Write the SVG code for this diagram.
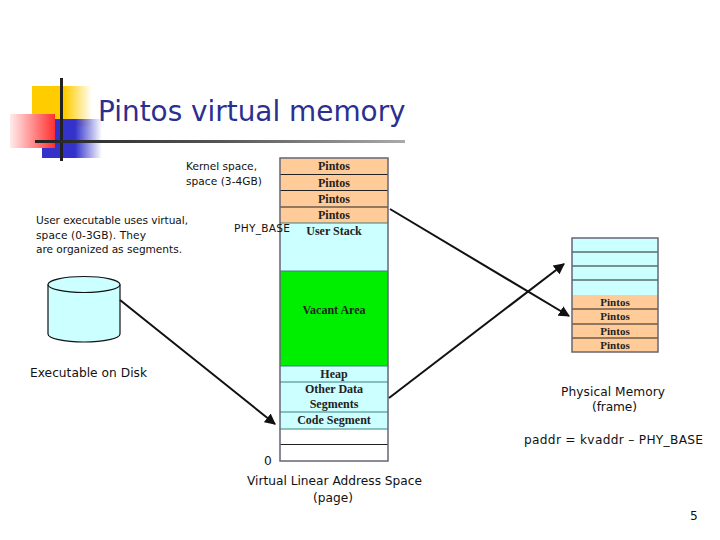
<svg xmlns="http://www.w3.org/2000/svg" width="720" height="540" viewBox="0 0 720 540">
<style>
.l{font-family:"DejaVu Sans",sans-serif;font-size:12.2px;fill:#111}
.s{font-family:"DejaVu Sans",sans-serif;font-size:10.6px;fill:#111}
.t{font-family:"Liberation Serif",serif;font-weight:bold;font-size:12px;text-anchor:middle;fill:#222}
.b{fill:#ccffff}.o{fill:#ffcc99}
.r{stroke:#222;stroke-width:1}
.f{fill:none;stroke:#667;stroke-width:1.5}
.a{stroke:#111;stroke-width:2;fill:none;marker-end:url(#h)}
</style>
<defs>
<marker id="h" viewBox="0 0 10 10" refX="9" refY="5" markerWidth="5.5" markerHeight="5.5" orient="auto"><path d="M0 0L10 5L0 10Z" fill="#111"/></marker>
<linearGradient id="y"><stop offset="0.55" stop-color="#ffcc00"/><stop offset="1" stop-color="#ffcc00" stop-opacity="0"/></linearGradient>
<linearGradient id="u"><stop offset="0.55" stop-color="#3333cc"/><stop offset="1" stop-color="#3333cc" stop-opacity="0"/></linearGradient>
<linearGradient id="e"><stop offset="0" stop-color="#ffecec"/><stop offset="1" stop-color="#ff3030"/></linearGradient>
<linearGradient id="n"><stop offset="0" stop-color="#222"/><stop offset="0.5" stop-color="#555"/><stop offset="1" stop-color="#aaa"/></linearGradient>
</defs>
<g id="logo">
<rect x="32" y="86" width="60" height="40" fill="url(#y)"/>
<rect x="42" y="119" width="60" height="39" fill="url(#u)"/>
<rect x="10" y="114" width="45" height="34" fill="url(#e)"/>
<rect x="60" y="78" width="3" height="83" fill="#222"/>
<rect x="35" y="140" width="370" height="3" fill="url(#n)"/>
</g>
<text id="title" x="98" y="121" style="font-family:'DejaVu Sans',sans-serif;font-size:27.9px;fill:#2b2f8f">Pintos virtual memory</text>
<g id="virtual-memory">
<rect class="o" x="280" y="158" width="108" height="65"/>
<rect class="b" x="280" y="223" width="108" height="48"/>
<rect x="280" y="271" width="108" height="95" fill="#00ee00"/>
<rect class="b" x="280" y="366" width="108" height="63"/>
<rect x="280" y="429" width="108" height="32" fill="#fff"/>
<path class="r" d="M280 174.500H388M280 190.500H388M280 207H388M280 444.500H388"/>
<path d="M280 223H388M280 271H388M280 366H388M280 382H388M280 412H388M280 429H388" stroke="#3f7f7f" stroke-width="1"/>
<rect class="f" x="280" y="158" width="108" height="303"/>
<text class="t" x="334" y="170">Pintos</text>
<text class="t" x="334" y="187">Pintos</text>
<text class="t" x="334" y="203">Pintos</text>
<text class="t" x="334" y="219">Pintos</text>
<text class="t" x="334" y="235">User Stack</text>
<text class="t" x="334" y="314">Vacant Area</text>
<text class="t" x="334" y="378">Heap</text>
<text class="t" x="334" y="393">Other Data</text>
<text class="t" x="334" y="408">Segments</text>
<text class="t" x="334" y="424">Code Segment</text>
</g>
<g id="physical-memory">
<rect class="b" x="572" y="238" width="86" height="57"/>
<rect class="o" x="572" y="295" width="86" height="57"/>
<path class="r" d="M572 252H658M572 266H658M572 280H658M572 309H658M572 324H658M572 338H658"/>
<rect class="f" x="572" y="238" width="86" height="114"/>
<g style="font-family:'Liberation Serif',serif;font-weight:bold;font-size:11px;text-anchor:middle;fill:#222">
<text x="615" y="306">Pintos</text>
<text x="615" y="320">Pintos</text>
<text x="615" y="335">Pintos</text>
<text x="615" y="349">Pintos</text>
</g>
</g>
<g id="disk">
<path d="M48 285V334A36 8 0 0 0 120 334V285Z" fill="#ccffff" stroke="#111" stroke-width="1.200"/>
<ellipse cx="84" cy="284.500" rx="36" ry="8" fill="#ccffff" stroke="#111" stroke-width="1.200"/>
</g>
<g id="connectors">
<path class="a" d="M120 300L275 424"/>
<path class="a" d="M390 209L569 316"/>
<path class="a" d="M389 398L564 264"/>
</g>
<g id="labels">
<text class="s" x="186" y="170" textLength="71">Kernel space,</text>
<text class="s" x="186" y="185" textLength="76">space (3-4GB)</text>
<text class="s" x="36" y="224" textLength="152">User executable uses virtual,</text>
<text class="s" x="36" y="239" textLength="110">space (0-3GB). They</text>
<text class="s" x="36" y="253" textLength="146">are organized as segments.</text>
<text class="s" x="234" y="232" textLength="56">PHY_BASE</text>
<text class="l" x="30" y="377" textLength="117">Executable on Disk</text>
<text class="l" x="561" y="396" textLength="104">Physical Memory</text>
<text class="l" x="592" y="411" textLength="45">(frame)</text>
<text class="l" x="524" y="444" textLength="179">paddr = kvaddr – PHY_BASE</text>
<text class="l" x="264" y="465">0</text>
<text class="l" x="247" y="485" textLength="175">Virtual Linear Address Space</text>
<text class="l" x="313" y="502" textLength="40">(page)</text>
<text class="l" x="690" y="520">5</text>
</g>
</svg>
